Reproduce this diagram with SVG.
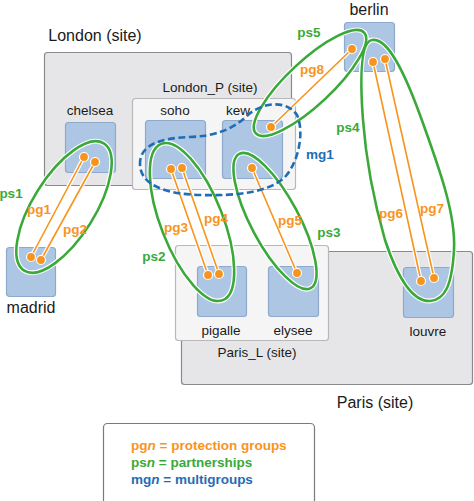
<svg xmlns="http://www.w3.org/2000/svg" width="474" height="501" viewBox="0 0 474 501">
<style>
.site{fill:#e6e6e8;stroke:#8a8a8c;stroke-width:1.2}
.subsite{fill:#f5f5f6;stroke:#b8b8ba;stroke-width:1.2}
.node{fill:#adc6e4;stroke:#8ea9cb;stroke-width:1.2}
.lbl{font-family:"Liberation Sans",Arial,sans-serif;fill:#1a1a1a;text-anchor:middle}
.sm{font-size:13.5px}
.big{font-size:16px}
.halo{fill:none;stroke:#ffffff;stroke-width:5}
.ps{fill:none;stroke:#3aa93a;stroke-width:2.6}
.pgl{stroke:#f7941d;stroke-width:1.6}
.pglh{stroke:#ffffff;stroke-width:4}
.dot{fill:#f7941d;stroke:#ffffff;stroke-width:1.2}
.mg{fill:none;stroke:#1f6db5;stroke-width:2.6;stroke-dasharray:7,3.5}
.tag{font-family:"Liberation Sans",Arial,sans-serif;font-weight:bold;font-size:13.5px}
.og{fill:#f7941d}.gr{fill:#3aa93a}.bl{fill:#1f6db5}
</style>
<defs>
<ellipse id="e1" cx="64" cy="207" rx="75" ry="31" transform="rotate(-58 64 207)"/>
<ellipse id="e2" cx="192" cy="222" rx="84" ry="31" transform="rotate(68.5 192 222)"/>
<ellipse id="e3" cx="275" cy="221" rx="76" ry="24" transform="rotate(62 275 221)"/>
<path id="e4" d="M372,40 C385,38 400,60 420,115 C440,170 456,215 454,250 C452,285 445,300 430,301 C410,302 395,270 385,240 C375,205 366,160 363,120 C360,80 360,42 372,40 Z"/>
<ellipse id="e5" cx="310" cy="83" rx="74" ry="22" transform="rotate(-43 310 83)"/>
</defs>
<rect width="474" height="501" fill="#ffffff"/>

<g id="site-london">
<rect class="site" x="44.5" y="52.5" width="247" height="133" rx="3"/>
<text class="lbl big" x="95" y="41">London (site)</text>
</g>
<g id="site-london-p">
<rect class="subsite" x="132.5" y="98.5" width="163" height="91" rx="3"/>
<text class="lbl sm" x="210" y="92">London_P (site)</text>
</g>
<g id="site-paris">
<rect class="site" x="181.5" y="251.5" width="291" height="133" rx="3"/>
<text class="lbl big" x="375" y="408">Paris (site)</text>
</g>
<g id="site-paris-l">
<rect class="subsite" x="175.5" y="245.5" width="153" height="95" rx="3"/>
<text class="lbl sm" x="257" y="357">Paris_L (site)</text>
</g>

<g id="chelsea"><rect class="node" x="65.5" y="122.5" width="50" height="50" rx="3"/><text class="lbl sm" x="90" y="115">chelsea</text></g>
<g id="soho"><rect class="node" x="145.5" y="120.5" width="60" height="58" rx="3"/><text class="lbl sm" x="175" y="115">soho</text></g>
<g id="kew"><rect class="node" x="222.5" y="120.5" width="60" height="58" rx="3"/><text class="lbl sm" x="238" y="115">kew</text></g>
<g id="berlin"><rect class="node" x="344.5" y="22.5" width="50" height="49" rx="3"/><text class="lbl big" x="369" y="15">berlin</text></g>
<g id="madrid"><rect class="node" x="6.5" y="247.5" width="49" height="49" rx="3"/><text class="lbl big" x="31" y="313">madrid</text></g>
<g id="pigalle"><rect class="node" x="197.5" y="266.5" width="49" height="50" rx="3"/><text class="lbl sm" x="221" y="335">pigalle</text></g>
<g id="elysee"><rect class="node" x="268.5" y="266.5" width="50" height="50" rx="3"/><text class="lbl sm" x="293" y="335">elysee</text></g>
<g id="louvre"><rect class="node" x="403.5" y="267.5" width="50" height="50" rx="3"/><text class="lbl sm" x="428" y="336">louvre</text></g>

<g id="connectors">
<g id="partnerships">
<use href="#e1" class="halo"/><use href="#e2" class="halo"/><use href="#e3" class="halo"/><use href="#e4" class="halo"/><use href="#e5" class="halo"/>
<use href="#e1" class="ps"/><use href="#e2" class="ps"/><use href="#e3" class="ps"/><use href="#e4" class="ps"/><use href="#e5" class="ps"/>
</g>
<g id="pg-halo" class="pglh">
<line x1="84" y1="157" x2="31" y2="257"/><line x1="95" y1="162" x2="41" y2="260"/>
<line x1="171" y1="169" x2="208" y2="275"/><line x1="182" y1="168" x2="219" y2="274"/>
<line x1="252" y1="168" x2="297" y2="273"/><line x1="271" y1="127" x2="352" y2="49"/>
<line x1="373" y1="62" x2="421" y2="281"/><line x1="385" y1="59" x2="434" y2="278"/>
</g>
<g id="protection-groups" class="pgl">
<line x1="84" y1="157" x2="31" y2="257"/><line x1="95" y1="162" x2="41" y2="260"/>
<line x1="171" y1="169" x2="208" y2="275"/><line x1="182" y1="168" x2="219" y2="274"/>
<line x1="252" y1="168" x2="297" y2="273"/><line x1="271" y1="127" x2="352" y2="49"/>
<line x1="373" y1="62" x2="421" y2="281"/><line x1="385" y1="59" x2="434" y2="278"/>
</g>
<g id="dots" class="dot">
<circle cx="84" cy="157" r="4.5"/><circle cx="95" cy="162" r="4.5"/><circle cx="31" cy="257" r="4.5"/><circle cx="41" cy="260" r="4.5"/>
<circle cx="171" cy="169" r="4.5"/><circle cx="182" cy="168" r="4.5"/><circle cx="208" cy="275" r="4.5"/><circle cx="219" cy="274" r="4.5"/>
<circle cx="252" cy="168" r="4.5"/><circle cx="297" cy="273" r="4.5"/><circle cx="271" cy="127" r="4.5"/><circle cx="352" cy="49" r="4.5"/>
<circle cx="373" cy="62" r="4.5"/><circle cx="385" cy="59" r="4.5"/><circle cx="421" cy="281" r="4.5"/><circle cx="434" cy="278" r="4.5"/>
</g>
<path id="mg1" class="mg" d="M140,165 C139,145 160,138 190,137 C215,136 232,130 248,115 C260,104 285,98 297,115 C304,130 300,160 285,177 C268,193 235,196 200,195 C165,194 141,185 140,165 Z"/>
<g id="connector-labels" class="tag">
<text class="og" x="39" y="214" text-anchor="middle">pg1</text>
<text class="og" x="75" y="234" text-anchor="middle">pg2</text>
<text class="gr" x="11" y="198" text-anchor="middle">ps1</text>
<text class="og" x="176" y="232" text-anchor="middle">pg3</text>
<text class="og" x="216" y="223" text-anchor="middle">pg4</text>
<text class="gr" x="154" y="261" text-anchor="middle">ps2</text>
<text class="og" x="290" y="225" text-anchor="middle">pg5</text>
<text class="gr" x="329" y="237" text-anchor="middle">ps3</text>
<text class="og" x="391" y="218" text-anchor="middle">pg6</text>
<text class="og" x="432" y="213" text-anchor="middle">pg7</text>
<text class="gr" x="348" y="132" text-anchor="middle">ps4</text>
<text class="gr" x="309" y="37" text-anchor="middle">ps5</text>
<text class="og" x="312" y="74" text-anchor="middle">pg8</text>
<text class="bl" x="320" y="159" text-anchor="middle">mg1</text>
</g>
</g>

<g id="legend">
<rect x="103.5" y="423.5" width="211" height="90" rx="4" fill="#ffffff" stroke="#7a7a7a" stroke-width="1.2"/>
<text class="tag og" x="131" y="450">pg<tspan font-style="italic">n</tspan> = protection groups</text>
<text class="tag gr" x="131" y="467">ps<tspan font-style="italic">n</tspan> = partnerships</text>
<text class="tag bl" x="131" y="484">mg<tspan font-style="italic">n</tspan> = multigroups</text>
</g>
</svg>
